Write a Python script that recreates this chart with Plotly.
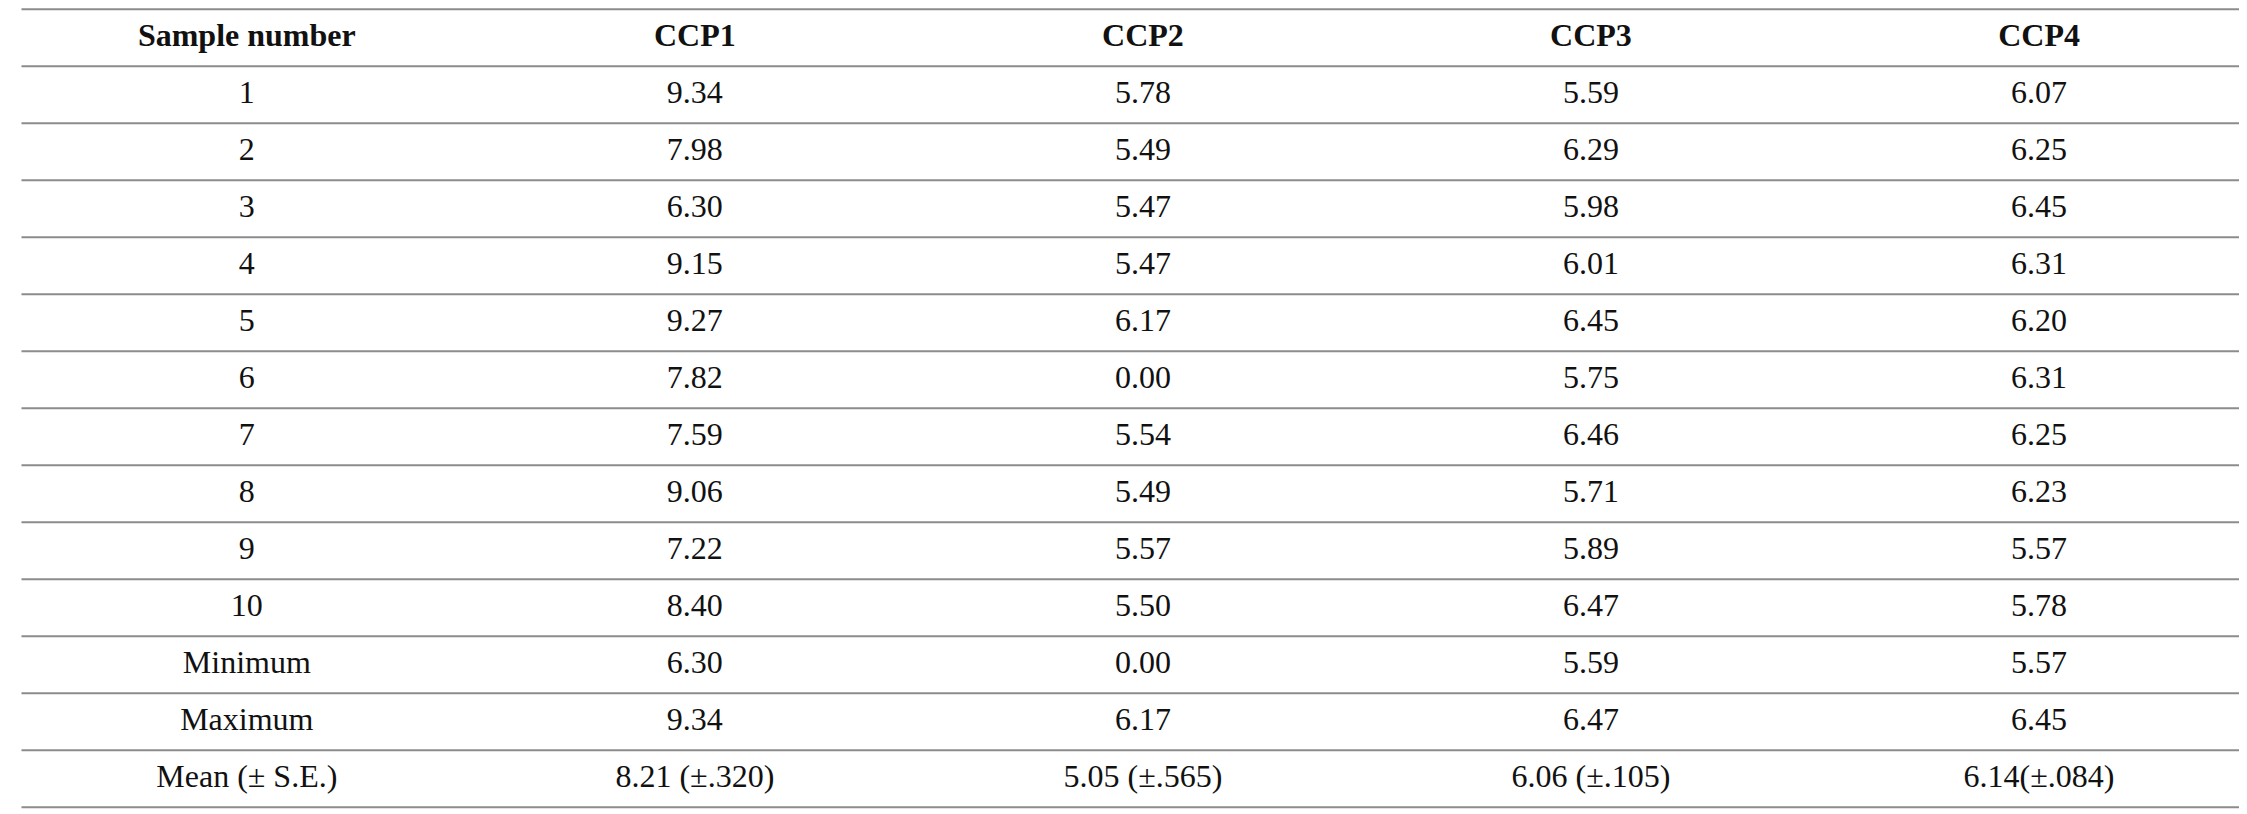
import plotly.graph_objects as go

header = ["Sample number", "CCP1", "CCP2", "CCP3", "CCP4"]
row_labels = ["1", "2", "3", "4", "5", "6", "7", "8", "9", "10", "Minimum", "Maximum", "Mean (± S.E.)"]
ccp1 = ["9.34", "7.98", "6.30", "9.15", "9.27", "7.82", "7.59", "9.06", "7.22", "8.40", "6.30", "9.34", "8.21 (±.320)"]
ccp2 = ["5.78", "5.49", "5.47", "5.47", "6.17", "0.00", "5.54", "5.49", "5.57", "5.50", "0.00", "6.17", "5.05 (±.565)"]
ccp3 = ["5.59", "6.29", "5.98", "6.01", "6.45", "5.75", "6.46", "5.71", "5.89", "6.47", "5.59", "6.47", "6.06 (±.105)"]
ccp4 = ["6.07", "6.25", "6.45", "6.31", "6.20", "6.31", "6.25", "6.23", "5.57", "5.78", "5.57", "6.45", "6.14(±.084)"]

columns = [row_labels, ccp1, ccp2, ccp3, ccp4]
font = "Liberation Serif"

fig = go.Figure()
# header
fig.add_trace(go.Scatter(
    x=list(range(len(header))), y=[0] * len(header), mode="text",
    text=["<b>%s</b>" % h for h in header],
    textfont=dict(family=font, size=32, color="#111"), hoverinfo="skip"))
# body
for ci, col in enumerate(columns):
    fig.add_trace(go.Scatter(
        x=[ci] * len(col), y=list(range(1, len(col) + 1)), mode="text",
        text=col, textfont=dict(family=font, size=32, color="#111"),
        hoverinfo="skip"))

nrows = len(row_labels) + 1
for k in range(nrows + 1):
    fig.add_shape(type="line", xref="paper", yref="y", x0=0.006, x1=1,
                  y0=k - 0.5, y1=k - 0.5, line=dict(color="#8c8c8c", width=2))

fig.update_xaxes(visible=False, range=[-0.533, 4.482])
fig.update_yaxes(visible=False, range=[13.76, -0.52])
fig.update_layout(width=2247, height=814, margin=dict(l=0, r=0, t=0, b=0),
                  showlegend=False, plot_bgcolor="white", paper_bgcolor="white")
fig.write_html("out.html")
